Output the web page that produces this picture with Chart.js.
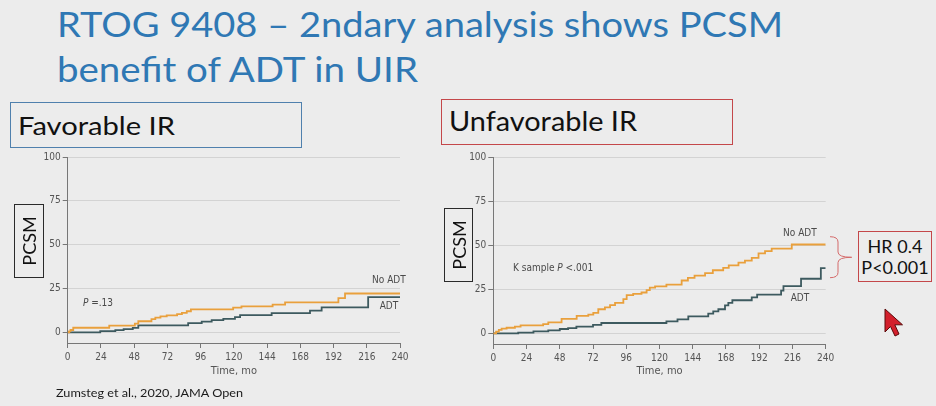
<!DOCTYPE html>
<html>
<head>
<meta charset="utf-8">
<script src="https://cdn.jsdelivr.net/npm/chart.js@4.4.1/dist/chart.umd.min.js"></script>
<style>
  html, body { margin: 0; padding: 0; }
  body { width: 936px; height: 406px; background: #ececec; position: relative; overflow: hidden; font-family: Lato, "Open Sans", sans-serif; }
  .abs { position: absolute; }
  .fit { white-space: nowrap; transform-origin: 0 0; display: inline-block; }
  .title { color: #2f78b4; font-weight: 400; font-size: 34px; line-height: 34px; left: 57px; }
  .box { box-sizing: border-box; }
  .pcsm { box-sizing: border-box; border: 1.5px solid #2a2a2a; display: flex; align-items: center; justify-content: center; }
  .pcsm span { display: inline-block; transform: rotate(-90deg); font-size: 18px; color: #111; white-space: nowrap; }
  canvas { position: absolute; }
</style>
</head>
<body>

<div id="t1" class="abs fit title" style="top:7px">RTOG 9408 – 2ndary analysis shows PCSM</div>
<div id="t2" class="abs fit title" style="top:52px">benefit of ADT in UIR</div>

<div class="abs box" style="left:10px; top:102px; width:292px; height:46px; border:1px solid #4f80ad"></div>
<div id="favLbl" class="abs fit" style="left:18px; top:113px; font-size:25px; line-height:25px; color:#111">Favorable IR</div>

<div class="abs box" style="left:441px; top:99px; width:292px; height:46px; border:1px solid #c4474a"></div>
<div id="unfLbl" class="abs fit" style="left:449px; top:108px; font-size:26px; line-height:26px; color:#111">Unfavorable IR</div>

<canvas id="favChart" width="420" height="240" style="left:0; top:145px"></canvas>
<canvas id="unfChart" width="420" height="240" style="left:430px; top:145px"></canvas>

<div class="abs pcsm" style="left:14px; top:204px; width:30px; height:74px"><span>PCSM</span></div>
<div class="abs pcsm" style="left:444px; top:208px; width:29px; height:74px"><span>PCSM</span></div>

<div class="abs box" style="left:858px; top:231px; width:74px; height:51px; border:1px solid #c4474a; text-align:center; font-size:18px; line-height:21px; padding-top:4px; color:#111">HR 0.4<br>P&lt;0.001</div>

<svg class="abs" style="left:0; top:0" width="936" height="406">
  <path d="M830,236.7 Q838,236.7 838,242 L838,252 Q838,257.3 851.7,257.3 Q838,257.3 838,262.6 L838,272.4 Q838,277.7 830,277.7" fill="none" stroke="#d46a6a" stroke-width="1"/>
  <path d="M885,309 L885,332 L890.5,326.5 L895,336 L899,334 L894.8,324.8 L902.5,324.8 Z" fill="#d3202c" stroke="#5a0a0a" stroke-width="1"/>
</svg>

<div id="cite" class="abs fit" style="left:56px; top:387px; font-size:12px; line-height:12px; color:#1a1a1a">Zumsteg et al., 2020, JAMA Open</div>

<script>
// axis ticks
const xTicks = [0, 24, 48, 72, 96, 120, 144, 168, 192, 216, 240];
const yTicks = [0, 25, 50, 75, 100];

// Favorable IR - cumulative PCSM (%) by month
const favNoAdtMonths = [0, 1, 2, 4, 30, 48.5, 51, 60.5, 63.3, 67, 71.5, 79, 82.5, 86, 89, 119.5, 125.5, 148, 157, 195.5, 200.3, 240];
const favNoAdtPcsm   = [0, 0.6, 1.4, 2.7, 3.9, 5.0, 6.4, 7.6, 8.5, 9.2, 9.8, 10.4, 11.2, 12.1, 13.2, 14.2, 14.9, 15.9, 17.2, 19.6, 22.2, 22.2];
const favAdtMonths = [0, 23.5, 34.4, 40.4, 47, 51, 87, 96.8, 104, 112.4, 120.8, 124.5, 147.3, 175, 183.4, 217, 240];
const favAdtPcsm   = [0, 0.8, 1.3, 1.9, 2.6, 4.1, 5.3, 6.2, 7.0, 7.8, 8.8, 9.9, 11.0, 12.5, 14.3, 20.2, 20.2];

// Unfavorable IR
const unfNoAdtMonths = [0, 2, 4, 6, 9.6, 15.6, 19.7, 36, 39.7, 49.3, 60.2, 68.6, 72.2, 75.8, 80.6, 84.3, 87.9, 93.9, 96.3, 101, 107, 110.7, 113, 116.8, 125, 136, 140.5, 145.3, 152.9, 158.5, 166, 170, 177, 181.7, 186.6, 191.5, 196.2, 201, 215.5, 240];
const unfNoAdtPcsm   = [0, 1.0, 2.0, 2.7, 3.2, 3.8, 4.6, 5.3, 6.3, 8.2, 9.9, 10.6, 11.6, 13.7, 14.8, 16.0, 17.3, 19.4, 21.7, 22.4, 23.2, 24.5, 25.9, 26.7, 27.6, 30.0, 31.5, 32.8, 34.2, 35.8, 37.1, 38.6, 40.1, 41.3, 42.8, 45.4, 46.7, 48.1, 50.4, 50.4];
const unfAdtMonths = [0, 18, 29, 39.7, 48, 54, 60, 72, 78, 125, 133, 140.8, 155.2, 158.8, 162.5, 167.3, 169.7, 172.6, 186.6, 190.5, 207.8, 209.5, 222.2, 236.5, 240];
const unfAdtPcsm   = [0, 0.4, 1.1, 1.7, 2.5, 3.0, 3.8, 4.8, 5.9, 6.8, 8.0, 9.7, 11.2, 12.5, 13.7, 15.9, 17.3, 18.8, 20.4, 22.0, 24.3, 26.8, 31.0, 37.0, 37.0];

const orange = '#e9a03c';
const slate = '#3d5a5f';
const condensed = '"DejaVu Sans Condensed", "Liberation Sans Narrow", sans-serif';
const tickFont = { family: condensed, size: 10 };
const axisTitleFont = { family: condensed, size: 11 };

function toPoints(xs, ys) {
    return xs.map((x, i) => ({ x: x, y: ys[i] }));
}

// text labels inside the plot (No ADT / ADT / P value)
const kmLabels = {
    id: 'kmLabels',
    afterDatasetsDraw(chart, args, opts) {
        const ctx = chart.ctx;
        const xs = chart.scales.x, ys = chart.scales.y;
        ctx.save();
        ctx.fillStyle = '#4a4a4a';
        ctx.textBaseline = 'middle';
        ctx.textAlign = 'left';
        opts.items.forEach(item => {
            let px = xs.getPixelForValue(item.x);
            const py = ys.getPixelForValue(item.y);
            let total = 0;
            item.parts.forEach(p => {
                ctx.font = (p[1] ? 'italic ' : '') + '10px ' + condensed;
                total += ctx.measureText(p[0]).width;
            });
            if (item.align === 'center') px -= total / 2;
            item.parts.forEach(p => {
                ctx.font = (p[1] ? 'italic ' : '') + '10px ' + condensed;
                ctx.fillText(p[0], px, py);
                px += ctx.measureText(p[0]).width;
            });
        });
        ctx.restore();
    }
};

function makeChart(id, noAdt, adt, yWidth, padRight, xHeight, labels) {
    const ctx = document.getElementById(id).getContext('2d');
    return new Chart(ctx, {
        type: 'line',
        data: {
            datasets: [{
                label: 'No ADT',
                data: noAdt,
                borderColor: orange,
                borderWidth: 1.8,
                stepped: true,
                pointRadius: 0,
                fill: false
            }, {
                label: 'ADT',
                data: adt,
                borderColor: slate,
                borderWidth: 1.8,
                stepped: true,
                pointRadius: 0,
                fill: false
            }]
        },
        options: {
            responsive: false,
            animation: false,
            layout: { padding: { top: 12, right: padRight, left: 0, bottom: 0 } },
            plugins: {
                legend: { display: false },
                tooltip: { enabled: false },
                kmLabels: { items: labels }
            },
            scales: {
                x: {
                    type: 'linear',
                    min: 0,
                    max: 240,
                    afterBuildTicks: s => { s.ticks = xTicks.map(v => ({ value: v })); },
                    afterFit: s => { s.height = xHeight; },
                    grid: { drawOnChartArea: false, tickLength: 5, tickColor: '#777' },
                    border: { color: '#777', width: 1 },
                    ticks: { font: tickFont, color: '#555', padding: 3, maxRotation: 0, autoSkip: false },
                    title: { display: true, text: 'Time, mo', font: axisTitleFont, color: '#555', padding: { top: 0, bottom: 7 } }
                },
                y: {
                    type: 'linear',
                    min: -6,
                    max: 100,
                    afterBuildTicks: s => { s.ticks = yTicks.map(v => ({ value: v })); },
                    afterFit: s => { s.width = yWidth; },
                    grid: { color: '#d3d3d3', tickLength: 5, tickColor: '#777' },
                    border: { color: '#777', width: 1 },
                    ticks: { font: tickFont, color: '#555', padding: 2 }
                }
            }
        },
        plugins: [kmLabels]
    });
}

makeChart('favChart',
    toPoints(favNoAdtMonths, favNoAdtPcsm),
    toPoints(favAdtMonths, favAdtPcsm),
    67.7, 20, 42,
    [
        { x: 232, y: 29.7, align: 'center', parts: [['No ADT', false]] },
        { x: 232, y: 14.8, align: 'center', parts: [['ADT', false]] },
        { x: 11, y: 16.5, align: 'left', parts: [['P', true], [' =.13', false]] }
    ]);

makeChart('unfChart',
    toPoints(unfNoAdtMonths, unfNoAdtPcsm),
    toPoints(unfAdtMonths, unfAdtPcsm),
    63.3, 24.3, 41,
    [
        { x: 221.4, y: 56.9, align: 'center', parts: [['No ADT', false]] },
        { x: 221.4, y: 19.9, align: 'center', parts: [['ADT', false]] },
        { x: 14.2, y: 36.6, align: 'left', parts: [['K sample ', false], ['P', true], [' <.001', false]] }
    ]);

// squeeze slide text to the widths in the picture
function fitWidth(id, w) {
    const el = document.getElementById(id);
    const k = w / el.getBoundingClientRect().width;
    el.style.transform = 'scaleX(' + k + ')';
}
fitWidth('t1', 726);
fitWidth('t2', 361);
fitWidth('favLbl', 157);
fitWidth('unfLbl', 188);
fitWidth('cite', 187);
</script>
</body>
</html>
